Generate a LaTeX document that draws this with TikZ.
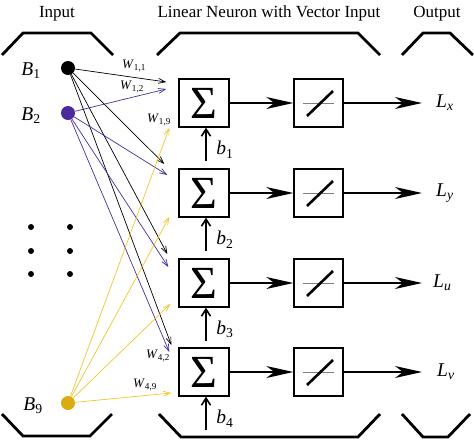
\documentclass[tikz,border=0pt]{standalone}
\usepackage{fontspec}
\setmainfont{Liberation Serif}
\usepackage{graphicx}
\usetikzlibrary{arrows.meta}
\definecolor{pur}{HTML}{4B2B9B}
\definecolor{yel}{HTML}{EEC72A}
\definecolor{gold}{HTML}{D9AC12}
\begin{document}
\begin{tikzpicture}[x=1pt,y=-1pt,
 sumbox/.style={draw,line width=1.4pt,minimum width=50pt,minimum height=48pt,inner sep=0pt},
 linbox/.style={draw,line width=1.4pt,minimum width=49pt,minimum height=48pt,inner sep=0pt},
 bigarr/.style={line width=1.4pt,-{Stealth[length=27pt,width=12pt,inset=8pt]}},
 barr/.style={line width=1.6pt,-{Straight Barb[length=7pt,width=9pt]}},
 warr/.style={line width=0.7pt,-{Straight Barb[length=7pt,width=5pt]}},
 bracket/.style={line width=2.8pt},
 title/.style={font=\fontsize{17}{18}\selectfont,anchor=base},
 blab/.style={font=\fontsize{19.5}{20}\selectfont,inner sep=0pt},
 wlab/.style={font=\fontsize{13}{14}\selectfont,inner sep=0pt},
 sigma/.style={font=\fontsize{46}{46}\selectfont},
 innode/.style={circle,minimum size=14pt,inner sep=0pt},
 dotn/.style={circle,fill=black,minimum size=6pt,inner sep=0pt}
]
\useasboundingbox (0,0) rectangle (474,440);
% titles
\node[title] (tin) at (57,17) {Input};
\node[title] (tlin) at (269,17) {Linear Neuron with Vector Input};
\node[title] (tout) at (437,17) {Output};
% brackets
\draw[bracket] (2,55) -- (23,33) -- (91,33) -- (113,55);
\draw[bracket] (157,55) -- (180,33) -- (358,33) -- (380,55);
\draw[bracket] (402,55) -- (423,33) -- (450,33) -- (473,55);
\draw[bracket] (2,414) -- (23,436) -- (90,436) -- (112,414);
\draw[bracket] (159,414) -- (181,437) -- (358,437) -- (380,414);
\draw[bracket] (402,414) -- (423,437) -- (448,437) -- (470,414);
% neurons
\foreach \i/\y in {1/103,2/193,3/283,4/372} {
  \node[sumbox] (s\i) at (204,\y) {};
  \node[sigma] (sg\i) at (s\i.center) {Σ};
  \node[linbox] (l\i) at (318.5,\y) {};
  \draw[gray,line width=0.8pt] ([xshift=-16pt]l\i.center) -- ([xshift=15pt]l\i.center);
  \draw[line width=2.6pt] ([xshift=-11.5pt,yshift=-13pt]l\i.center) -- ([xshift=14.5pt,yshift=12pt]l\i.center);
  \draw[bigarr] (s\i) -- (l\i);
  \coordinate (bs\i) at ([xshift=2pt,yshift=-33pt]s\i.south);
  \draw[barr] (bs\i) -- ([xshift=2pt]s\i.south);
  \node[blab] (bl\i) at ([xshift=21pt,yshift=-22pt]s\i.south) {\textit{b}\textsubscript{\i}};
}
% outputs
\node[blab,anchor=west] (Lx) at (436,103) {\textit{L}\textsubscript{\textit{x}}};
\node[blab,anchor=west] (Ly) at (436,193) {\textit{L}\textsubscript{\textit{y}}};
\node[blab,anchor=west] (Lu) at (433,283) {\textit{L}\textsubscript{\textit{u}}};
\node[blab,anchor=west] (Lv) at (437,372) {\textit{L}\textsubscript{\textit{v}}};
\draw[bigarr,shorten >=14pt] (l1) -- (Lx);
\draw[bigarr,shorten >=14pt] (l2) -- (Ly);
\draw[bigarr,shorten >=11pt] (l3) -- (Lu);
\draw[bigarr,shorten >=15pt] (l4) -- (Lv);
% inputs
\node[innode,fill=black] (B1) at (68,68) {};
\node[innode,fill=pur] (B2) at (68,113) {};
\node[innode,fill=gold] (B9) at (68,403) {};
\node[blab] (lB1) at (31,71) {\textit{B}\textsubscript{1}};
\node[blab] (lB2) at (31,116) {\textit{B}\textsubscript{2}};
\node[blab] (lB9) at (33,406) {\textit{B}\textsubscript{9}};
\foreach \x/\c in {31/a,70/b} \foreach \y/\r in {227/1,251/2,274/3} \node[dotn] (d\c\r) at (\x,\y) {};
% weighted connections
\foreach \i/\dx/\dy in {1/-12/21,2/-14/29,3/-11/29,4/-7/27}
  \draw[warr] (B1) -- ([xshift=\dx pt,yshift=\dy pt]s\i.west);
\foreach \i/\dx/\dy in {1/-12/14,2/-11/18,3/-10/16,4/-9/20}
  \draw[warr,pur] (B2) -- ([xshift=\dx pt,yshift=\dy pt]s\i.west);
\foreach \i/\dx/\dy in {1/-9/-25,2/-9/-24,3/-8/-21,4/-7/-21}
  \draw[warr,yel] (B9) -- ([xshift=\dx pt,yshift=\dy pt]s\i.west);
% weight labels
\node[wlab] (w11) at (134,66) {\textit{W}\textsubscript{1,1}};
\node[wlab] (w12) at (132,87) {\textit{W}\textsubscript{1,2}};
\node[wlab] (w19) at (159,120) {\textit{W}\textsubscript{1,9}};
\node[wlab] (w42) at (158,356) {\textit{W}\textsubscript{4,2}};
\node[wlab] (w49) at (145,385) {\textit{W}\textsubscript{4,9}};
\end{tikzpicture}
\end{document}
